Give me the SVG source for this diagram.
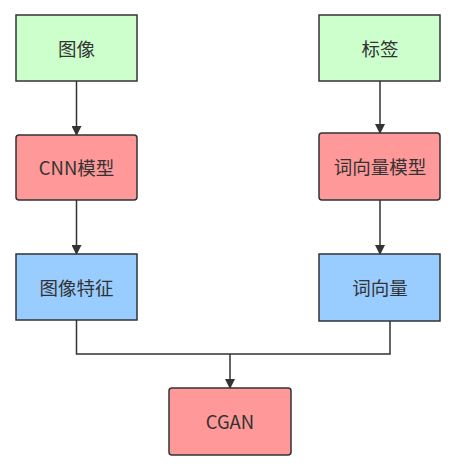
<svg xmlns="http://www.w3.org/2000/svg" width="462" height="468" viewBox="0 0 462 468">
<style>
.g{fill:#ccffcc;stroke:#333;stroke-width:1.5}
.r{fill:#ff9999;stroke:#333;stroke-width:1.5}
.b{fill:#99ccff;stroke:#333;stroke-width:1.5}
text{font-family:"Noto Sans CJK SC","Liberation Sans",sans-serif;font-size:18.5px;fill:#333;text-anchor:middle;dominant-baseline:central}
.c{fill:none;stroke:#333;stroke-width:1.5}
</style>
<defs>
<marker id="a" markerWidth="10" markerHeight="10" refX="9" refY="5" orient="auto" markerUnits="userSpaceOnUse">
<path d="M0,0 L10,5 L0,10 Z" fill="#333"/>
</marker>
</defs>
<rect width="462" height="468" fill="#fff"/>
<g id="connectors">
<path class="c" d="M76.5,81 V135" marker-end="url(#a)"/>
<path class="c" d="M76.5,200 V254" marker-end="url(#a)"/>
<path class="c" d="M380,81 V133" marker-end="url(#a)"/>
<path class="c" d="M380,200 V254" marker-end="url(#a)"/>
<path class="c" d="M76.5,320 V354 H390 V321"/>
<path class="c" d="M230,354 V388" marker-end="url(#a)"/>
</g>
<g id="n1"><rect class="g" x="16" y="15" width="121" height="66"/><text x="76.5" y="48">图像</text></g>
<g id="n2"><rect class="g" x="319" y="15" width="121" height="66"/><text x="380" y="48">标签</text></g>
<g id="n3"><rect class="r" x="16" y="135" width="121" height="65" rx="3"/><text x="76.5" y="167">CNN模型</text></g>
<g id="n4"><rect class="r" x="319" y="133" width="121" height="67" rx="3"/><text x="380" y="166">词向量模型</text></g>
<g id="n5"><rect class="b" x="16" y="254" width="121" height="66"/><text x="76.5" y="287">图像特征</text></g>
<g id="n6"><rect class="b" x="319" y="254" width="121" height="67"/><text x="380" y="287">词向量</text></g>
<g id="n7"><rect class="r" x="169" y="388" width="122" height="67" rx="3"/><text x="230" y="421">CGAN</text></g>
</svg>
